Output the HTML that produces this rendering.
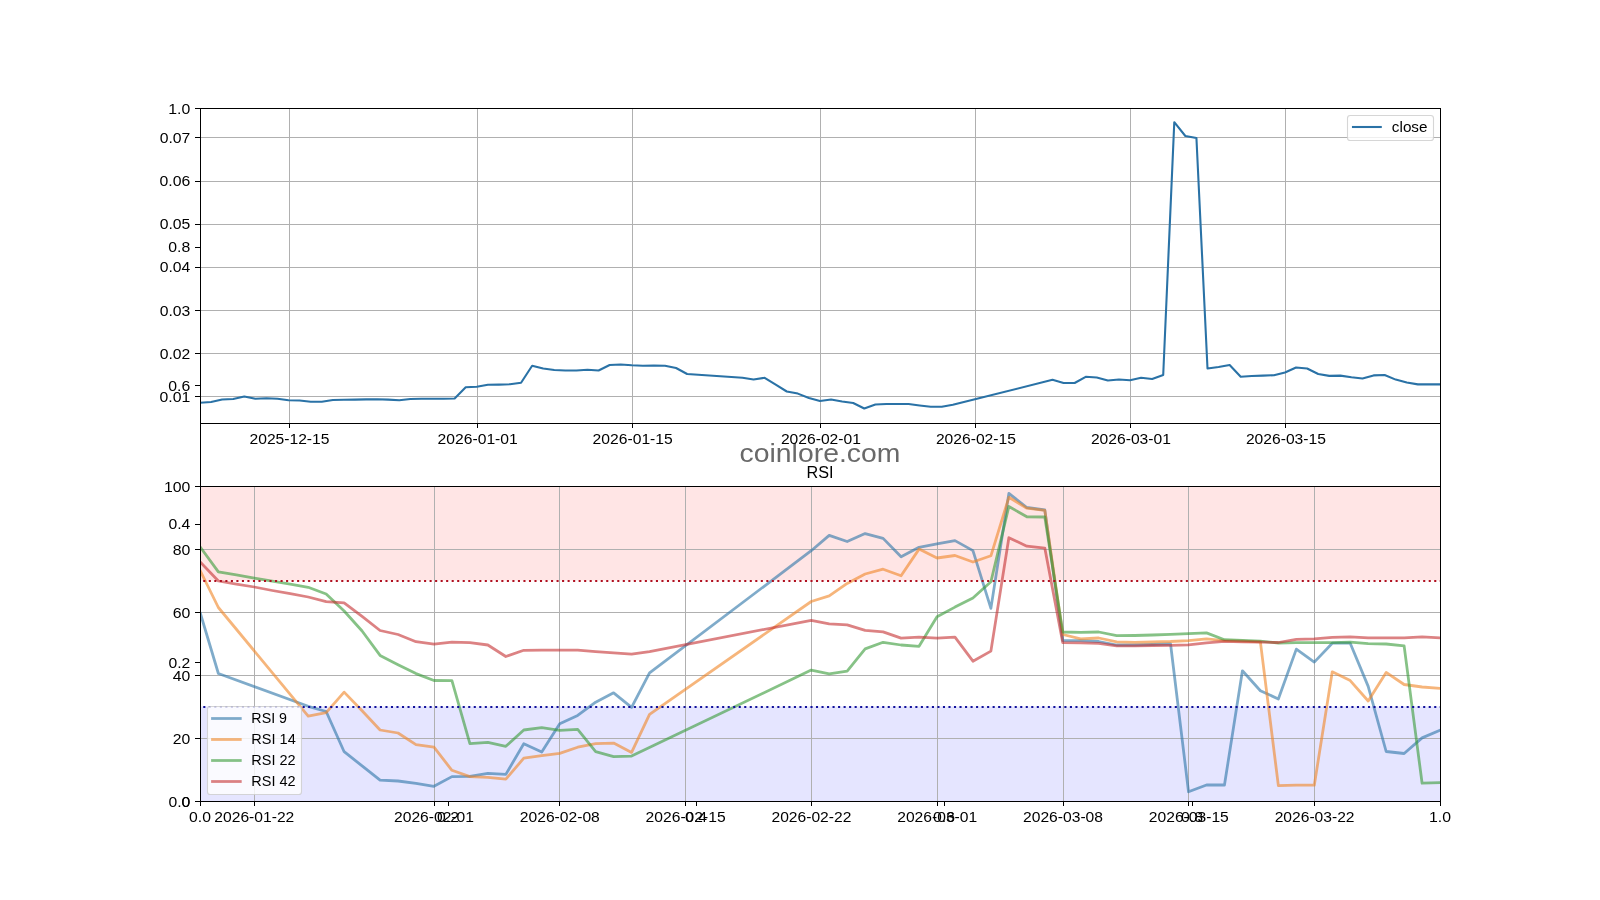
<!DOCTYPE html><html><head><meta charset="utf-8"><style>html,body{margin:0;padding:0;background:#fff;}svg{display:block;will-change:transform;}</style></head><body>
<svg width="1600" height="900" viewBox="0 0 1600 900">
<rect width="1600" height="900" fill="#fff"/>
<g font-family='&quot;Liberation Sans&quot;, sans-serif'>
<line x1="195" y1="801.5" x2="200" y2="801.5" stroke="#000" stroke-width="1" shape-rendering="crispEdges"/>
<line x1="195" y1="662.5" x2="200" y2="662.5" stroke="#000" stroke-width="1" shape-rendering="crispEdges"/>
<line x1="195" y1="524.5" x2="200" y2="524.5" stroke="#000" stroke-width="1" shape-rendering="crispEdges"/>
<line x1="195" y1="385.5" x2="200" y2="385.5" stroke="#000" stroke-width="1" shape-rendering="crispEdges"/>
<line x1="195" y1="247.5" x2="200" y2="247.5" stroke="#000" stroke-width="1" shape-rendering="crispEdges"/>
<line x1="195" y1="108.5" x2="200" y2="108.5" stroke="#000" stroke-width="1" shape-rendering="crispEdges"/>
<line x1="200.5" y1="801" x2="200.5" y2="806" stroke="#000" stroke-width="1" shape-rendering="crispEdges"/>
<line x1="448.5" y1="801" x2="448.5" y2="806" stroke="#000" stroke-width="1" shape-rendering="crispEdges"/>
<line x1="696.5" y1="801" x2="696.5" y2="806" stroke="#000" stroke-width="1" shape-rendering="crispEdges"/>
<line x1="944.5" y1="801" x2="944.5" y2="806" stroke="#000" stroke-width="1" shape-rendering="crispEdges"/>
<line x1="1192.5" y1="801" x2="1192.5" y2="806" stroke="#000" stroke-width="1" shape-rendering="crispEdges"/>
<line x1="1440.5" y1="801" x2="1440.5" y2="806" stroke="#000" stroke-width="1" shape-rendering="crispEdges"/>
<line x1="289.5" y1="108" x2="289.5" y2="423" stroke="#b0b0b0" stroke-width="1" shape-rendering="crispEdges"/>
<line x1="477.5" y1="108" x2="477.5" y2="423" stroke="#b0b0b0" stroke-width="1" shape-rendering="crispEdges"/>
<line x1="632.5" y1="108" x2="632.5" y2="423" stroke="#b0b0b0" stroke-width="1" shape-rendering="crispEdges"/>
<line x1="820.5" y1="108" x2="820.5" y2="423" stroke="#b0b0b0" stroke-width="1" shape-rendering="crispEdges"/>
<line x1="975.5" y1="108" x2="975.5" y2="423" stroke="#b0b0b0" stroke-width="1" shape-rendering="crispEdges"/>
<line x1="1130.5" y1="108" x2="1130.5" y2="423" stroke="#b0b0b0" stroke-width="1" shape-rendering="crispEdges"/>
<line x1="1285.5" y1="108" x2="1285.5" y2="423" stroke="#b0b0b0" stroke-width="1" shape-rendering="crispEdges"/>
<line x1="200" y1="396.5" x2="1440" y2="396.5" stroke="#b0b0b0" stroke-width="1" shape-rendering="crispEdges"/>
<line x1="200" y1="353.5" x2="1440" y2="353.5" stroke="#b0b0b0" stroke-width="1" shape-rendering="crispEdges"/>
<line x1="200" y1="310.5" x2="1440" y2="310.5" stroke="#b0b0b0" stroke-width="1" shape-rendering="crispEdges"/>
<line x1="200" y1="267.5" x2="1440" y2="267.5" stroke="#b0b0b0" stroke-width="1" shape-rendering="crispEdges"/>
<line x1="200" y1="224.5" x2="1440" y2="224.5" stroke="#b0b0b0" stroke-width="1" shape-rendering="crispEdges"/>
<line x1="200" y1="181.5" x2="1440" y2="181.5" stroke="#b0b0b0" stroke-width="1" shape-rendering="crispEdges"/>
<line x1="200" y1="137.5" x2="1440" y2="137.5" stroke="#b0b0b0" stroke-width="1" shape-rendering="crispEdges"/>
<clipPath id="c1"><rect x="200" y="108" width="1240" height="315"/></clipPath>
<polyline clip-path="url(#c1)" points="200,402.8 211.07,402 222.14,399.5 233.21,399 244.29,396.5 255.36,398.8 266.43,398.3 277.5,398.8 288.57,400.2 299.64,400.5 310.71,401.8 321.79,401.8 332.86,400 343.93,399.8 355,399.6 366.07,399.4 377.14,399.2 388.21,399.6 399.29,400.2 410.36,399 421.43,398.8 432.5,398.8 443.57,398.8 454.64,398.5 465.71,387.2 476.79,386.8 487.86,384.8 498.93,384.6 510,384.2 521.07,382.8 532.14,365.8 543.21,368.5 554.28,370 565.36,370.5 576.43,370.5 587.5,369.7 598.57,370.5 609.64,365 620.71,364.5 631.78,365.3 642.86,365.7 653.93,365.5 665,365.8 676.07,368 687.14,374 698.21,374.8 709.28,375.5 720.36,376.3 731.43,377 742.5,377.8 753.57,379.5 764.64,377.8 775.71,384.7 786.78,391.5 797.86,393.6 808.93,398 820,401 831.07,399.5 842.14,401.5 853.21,403 864.28,408.5 875.36,404.5 886.43,404 897.5,404 908.57,404 919.64,405.5 930.71,406.8 941.78,406.8 952.86,404.8 1052.5,379.8 1063.57,383 1074.64,383 1085.71,376.8 1096.78,377.5 1107.85,380.5 1118.93,379.5 1130,380.2 1141.07,377.8 1152.14,379 1163.21,375 1174.28,122.2 1185.35,136 1196.43,138 1207.5,368.5 1218.57,367 1229.64,365 1240.71,376.8 1251.78,376 1262.85,375.6 1273.93,375.2 1285,372.5 1296.07,367.5 1307.14,368.5 1318.21,374 1329.28,375.9 1340.35,375.6 1351.43,377.3 1362.5,378.5 1373.57,375.4 1384.64,375 1395.71,379.6 1406.78,382.5 1417.85,384.4 1428.93,384.4 1440,384.4" fill="none" stroke="#2a72a6" stroke-width="2.083" stroke-linejoin="round" stroke-linecap="square"/>
<line x1="289.5" y1="423" x2="289.5" y2="428" stroke="#000" stroke-width="1" shape-rendering="crispEdges"/>
<line x1="477.5" y1="423" x2="477.5" y2="428" stroke="#000" stroke-width="1" shape-rendering="crispEdges"/>
<line x1="632.5" y1="423" x2="632.5" y2="428" stroke="#000" stroke-width="1" shape-rendering="crispEdges"/>
<line x1="820.5" y1="423" x2="820.5" y2="428" stroke="#000" stroke-width="1" shape-rendering="crispEdges"/>
<line x1="975.5" y1="423" x2="975.5" y2="428" stroke="#000" stroke-width="1" shape-rendering="crispEdges"/>
<line x1="1130.5" y1="423" x2="1130.5" y2="428" stroke="#000" stroke-width="1" shape-rendering="crispEdges"/>
<line x1="1285.5" y1="423" x2="1285.5" y2="428" stroke="#000" stroke-width="1" shape-rendering="crispEdges"/>
<line x1="195" y1="396.5" x2="200" y2="396.5" stroke="#000" stroke-width="1" shape-rendering="crispEdges"/>
<line x1="195" y1="353.5" x2="200" y2="353.5" stroke="#000" stroke-width="1" shape-rendering="crispEdges"/>
<line x1="195" y1="310.5" x2="200" y2="310.5" stroke="#000" stroke-width="1" shape-rendering="crispEdges"/>
<line x1="195" y1="267.5" x2="200" y2="267.5" stroke="#000" stroke-width="1" shape-rendering="crispEdges"/>
<line x1="195" y1="224.5" x2="200" y2="224.5" stroke="#000" stroke-width="1" shape-rendering="crispEdges"/>
<line x1="195" y1="181.5" x2="200" y2="181.5" stroke="#000" stroke-width="1" shape-rendering="crispEdges"/>
<line x1="195" y1="137.5" x2="200" y2="137.5" stroke="#000" stroke-width="1" shape-rendering="crispEdges"/>
<rect x="1347.5" y="115.5" width="86" height="25" rx="2.78" fill="#fff" fill-opacity="0.8" stroke="#ccc" stroke-opacity="0.8" stroke-width="1.11"/>
<line x1="1352.99" y1="127" x2="1380.76" y2="127" stroke="#2a72a6" stroke-width="2.083" stroke-linecap="square"/>
<clipPath id="c2"><rect x="200" y="486" width="1240" height="315"/></clipPath>
<rect x="200" y="486" width="1240" height="94.5" fill="#ff0000" fill-opacity="0.1"/>
<rect x="200" y="706.5" width="1240" height="94.5" fill="#0000ff" fill-opacity="0.1"/>
<line x1="254.5" y1="486" x2="254.5" y2="801" stroke="#b0b0b0" stroke-width="1" shape-rendering="crispEdges"/>
<line x1="434.5" y1="486" x2="434.5" y2="801" stroke="#b0b0b0" stroke-width="1" shape-rendering="crispEdges"/>
<line x1="559.5" y1="486" x2="559.5" y2="801" stroke="#b0b0b0" stroke-width="1" shape-rendering="crispEdges"/>
<line x1="685.5" y1="486" x2="685.5" y2="801" stroke="#b0b0b0" stroke-width="1" shape-rendering="crispEdges"/>
<line x1="811.5" y1="486" x2="811.5" y2="801" stroke="#b0b0b0" stroke-width="1" shape-rendering="crispEdges"/>
<line x1="937.5" y1="486" x2="937.5" y2="801" stroke="#b0b0b0" stroke-width="1" shape-rendering="crispEdges"/>
<line x1="1063.5" y1="486" x2="1063.5" y2="801" stroke="#b0b0b0" stroke-width="1" shape-rendering="crispEdges"/>
<line x1="1188.5" y1="486" x2="1188.5" y2="801" stroke="#b0b0b0" stroke-width="1" shape-rendering="crispEdges"/>
<line x1="1314.5" y1="486" x2="1314.5" y2="801" stroke="#b0b0b0" stroke-width="1" shape-rendering="crispEdges"/>
<line x1="200" y1="738.5" x2="1440" y2="738.5" stroke="#b0b0b0" stroke-width="1" shape-rendering="crispEdges"/>
<line x1="200" y1="675.5" x2="1440" y2="675.5" stroke="#b0b0b0" stroke-width="1" shape-rendering="crispEdges"/>
<line x1="200" y1="612.5" x2="1440" y2="612.5" stroke="#b0b0b0" stroke-width="1" shape-rendering="crispEdges"/>
<line x1="200" y1="549.5" x2="1440" y2="549.5" stroke="#b0b0b0" stroke-width="1" shape-rendering="crispEdges"/>
<polyline clip-path="url(#c2)" points="200.4,613.5 218.37,673.5 308.2,706.3 326.16,711.5 344.13,751.7 362.09,765.9 380.06,780.1 398.03,781 415.99,783.3 433.96,786.3 451.92,776.6 469.89,776.4 487.86,773.4 505.82,774.4 523.79,743.7 541.75,752 559.72,723.8 577.69,715.4 595.65,702.2 613.62,692.8 631.58,707.4 649.55,672.8 811.24,550.7 829.21,535.4 847.18,541.5 865.14,533.6 883.11,538.4 901.07,556.8 919.04,547.3 937.01,543.8 954.97,540.6 972.94,550.6 990.9,608.4 1008.87,493.4 1026.84,507.5 1044.8,510 1062.77,640.5 1080.73,640.6 1098.7,641.5 1116.67,645 1134.63,645 1152.6,644.5 1170.56,644 1188.53,791.8 1206.5,785 1224.46,785 1242.43,670.8 1260.39,690.7 1278.36,699 1296.33,649.1 1314.29,662.1 1332.26,643.2 1350.22,643.2 1368.19,686.4 1386.16,751.5 1404.12,753.5 1422.09,737.9 1440.05,730.2" fill="none" stroke="#2973a7" stroke-opacity="0.6" stroke-width="2.78" stroke-linejoin="round" stroke-linecap="square"/>
<polyline clip-path="url(#c2)" points="200.4,571 218.37,607.5 308.2,716.1 326.16,712.6 344.13,692.1 362.09,710.8 380.06,730 398.03,733 415.99,744.6 433.96,747.2 451.92,770.3 469.89,776.6 487.86,777.4 505.82,779.2 523.79,758.2 541.75,755.6 559.72,753.4 577.69,747.2 595.65,743.7 613.62,743.1 631.58,752.4 649.55,714.3 811.24,601.5 829.21,595.9 847.18,583.4 865.14,574 883.11,569.2 901.07,575.8 919.04,549.1 937.01,558 954.97,555.5 972.94,562 990.9,555.8 1008.87,497.3 1026.84,508.2 1044.8,510.3 1062.77,634.5 1080.73,638.9 1098.7,638 1116.67,641.9 1134.63,642.4 1152.6,642 1170.56,641.5 1188.53,640.6 1206.5,638.9 1224.46,640.6 1242.43,641.2 1260.39,641.8 1278.36,785.6 1296.33,785.2 1314.29,785.2 1332.26,671.8 1350.22,680.6 1368.19,701 1386.16,672.4 1404.12,684.5 1422.09,687 1440.05,688.3" fill="none" stroke="#f08323" stroke-opacity="0.6" stroke-width="2.78" stroke-linejoin="round" stroke-linecap="square"/>
<polyline clip-path="url(#c2)" points="200.4,547.3 218.37,571.9 236.33,574.9 254.3,578.1 272.26,581.1 290.23,584.1 308.2,587.3 326.16,594 344.13,611 362.09,631 380.06,655.4 398.03,664.7 415.99,673.6 433.96,680.5 451.92,680.7 469.89,743.7 487.86,742.4 505.82,746.3 523.79,730 541.75,727.7 559.72,730.3 577.69,729.4 595.65,751.7 613.62,756.6 631.58,756.1 811.24,670.1 829.21,673.8 847.18,671.1 865.14,648.9 883.11,642.3 901.07,645 919.04,646.3 937.01,616.8 954.97,607.1 972.94,598 990.9,581.8 1008.87,506.5 1026.84,516.8 1044.8,517 1062.77,632 1080.73,632.4 1098.7,632 1116.67,635.7 1134.63,635.5 1152.6,635 1170.56,634.3 1188.53,633.7 1206.5,632.9 1224.46,639.7 1242.43,640.4 1260.39,641.2 1278.36,643 1296.33,642.6 1314.29,642.6 1332.26,642.6 1350.22,642.1 1368.19,643.6 1386.16,644 1404.12,645.9 1422.09,783.2 1440.05,782.7" fill="none" stroke="#369936" stroke-opacity="0.6" stroke-width="2.78" stroke-linejoin="round" stroke-linecap="square"/>
<polyline clip-path="url(#c2)" points="200.4,562.1 218.37,581 236.33,584.1 254.3,587 272.26,590.5 290.23,593.6 308.2,597 326.16,601.7 344.13,602.8 362.09,616.4 380.06,630.5 398.03,634.5 415.99,641.7 433.96,644.1 451.92,642.1 469.89,642.7 487.86,645 505.82,656.5 523.79,650.3 541.75,650.1 559.72,650.1 577.69,650.1 595.65,651.6 613.62,652.8 631.58,654.2 649.55,651.6 811.24,620.3 829.21,623.9 847.18,624.8 865.14,630.3 883.11,631.9 901.07,638.1 919.04,637.2 937.01,638.2 954.97,637.1 972.94,661.2 990.9,651.1 1008.87,537.7 1026.84,546.2 1044.8,548.1 1062.77,642.7 1080.73,642.9 1098.7,643.3 1116.67,645.9 1134.63,645.9 1152.6,645.5 1170.56,645.4 1188.53,644.8 1206.5,642.8 1224.46,641.4 1242.43,641.8 1260.39,642.2 1278.36,642.5 1296.33,639.3 1314.29,638.8 1332.26,637.4 1350.22,636.8 1368.19,637.8 1386.16,637.8 1404.12,637.8 1422.09,636.8 1440.05,637.8" fill="none" stroke="#c42f30" stroke-opacity="0.6" stroke-width="2.78" stroke-linejoin="round" stroke-linecap="square"/>
<line x1="200" y1="581" x2="1440" y2="581" stroke="#b01020" stroke-width="2" stroke-dasharray="2.08 3.44" stroke-dashoffset="-3.26"/>
<line x1="200" y1="707" x2="1440" y2="707" stroke="#10109a" stroke-width="2" stroke-dasharray="2.08 3.44" stroke-dashoffset="-3.26"/>
<line x1="254.5" y1="801" x2="254.5" y2="806" stroke="#000" stroke-width="1" shape-rendering="crispEdges"/>
<line x1="434.5" y1="801" x2="434.5" y2="806" stroke="#000" stroke-width="1" shape-rendering="crispEdges"/>
<line x1="559.5" y1="801" x2="559.5" y2="806" stroke="#000" stroke-width="1" shape-rendering="crispEdges"/>
<line x1="685.5" y1="801" x2="685.5" y2="806" stroke="#000" stroke-width="1" shape-rendering="crispEdges"/>
<line x1="811.5" y1="801" x2="811.5" y2="806" stroke="#000" stroke-width="1" shape-rendering="crispEdges"/>
<line x1="937.5" y1="801" x2="937.5" y2="806" stroke="#000" stroke-width="1" shape-rendering="crispEdges"/>
<line x1="1063.5" y1="801" x2="1063.5" y2="806" stroke="#000" stroke-width="1" shape-rendering="crispEdges"/>
<line x1="1188.5" y1="801" x2="1188.5" y2="806" stroke="#000" stroke-width="1" shape-rendering="crispEdges"/>
<line x1="1314.5" y1="801" x2="1314.5" y2="806" stroke="#000" stroke-width="1" shape-rendering="crispEdges"/>
<line x1="195" y1="738.5" x2="200" y2="738.5" stroke="#000" stroke-width="1" shape-rendering="crispEdges"/>
<line x1="195" y1="675.5" x2="200" y2="675.5" stroke="#000" stroke-width="1" shape-rendering="crispEdges"/>
<line x1="195" y1="612.5" x2="200" y2="612.5" stroke="#000" stroke-width="1" shape-rendering="crispEdges"/>
<line x1="195" y1="549.5" x2="200" y2="549.5" stroke="#000" stroke-width="1" shape-rendering="crispEdges"/>
<line x1="195" y1="801.5" x2="200" y2="801.5" stroke="#000" stroke-width="1" shape-rendering="crispEdges"/>
<line x1="195" y1="486.5" x2="200" y2="486.5" stroke="#000" stroke-width="1" shape-rendering="crispEdges"/>
<rect x="207.5" y="706.5" width="94" height="88" rx="2.78" fill="#fff" fill-opacity="0.8" stroke="#ccc" stroke-opacity="0.8" stroke-width="1.11"/>
<line x1="212.5" y1="718.5" x2="240.28" y2="718.5" stroke="#2973a7" stroke-opacity="0.6" stroke-width="2.78" stroke-linecap="square"/>
<line x1="212.5" y1="739.5" x2="240.28" y2="739.5" stroke="#f08323" stroke-opacity="0.6" stroke-width="2.78" stroke-linecap="square"/>
<line x1="212.5" y1="760.5" x2="240.28" y2="760.5" stroke="#369936" stroke-opacity="0.6" stroke-width="2.78" stroke-linecap="square"/>
<line x1="212.5" y1="781.5" x2="240.28" y2="781.5" stroke="#c42f30" stroke-opacity="0.6" stroke-width="2.78" stroke-linecap="square"/>
<line x1="200.5" y1="108" x2="200.5" y2="801.5" stroke="#000" stroke-width="1" shape-rendering="crispEdges"/>
<line x1="1440.5" y1="108" x2="1440.5" y2="801.5" stroke="#000" stroke-width="1" shape-rendering="crispEdges"/>
<line x1="200" y1="108.5" x2="1441" y2="108.5" stroke="#000" stroke-width="1" shape-rendering="crispEdges"/>
<line x1="200" y1="423.5" x2="1441" y2="423.5" stroke="#000" stroke-width="1" shape-rendering="crispEdges"/>
<line x1="200" y1="486.5" x2="1441" y2="486.5" stroke="#000" stroke-width="1" shape-rendering="crispEdges"/>
<line x1="200" y1="801.5" x2="1441" y2="801.5" stroke="#000" stroke-width="1" shape-rendering="crispEdges"/>
<text x="739.62" y="461.5" font-size="25" textLength="160.75" lengthAdjust="spacingAndGlyphs" fill="#696969">coinlore.com</text>
<text x="189.06" y="821.72" font-size="13.89" textLength="21.88" lengthAdjust="spacingAndGlyphs" fill="#000">0.0</text>
<text x="437.06" y="821.72" font-size="13.89" textLength="21.88" lengthAdjust="spacingAndGlyphs" fill="#000">0.2</text>
<text x="685.06" y="821.72" font-size="13.89" textLength="21.88" lengthAdjust="spacingAndGlyphs" fill="#000">0.4</text>
<text x="933" y="821.72" font-size="13.89" textLength="22" lengthAdjust="spacingAndGlyphs" fill="#000">0.6</text>
<text x="1181" y="821.72" font-size="13.89" textLength="22" lengthAdjust="spacingAndGlyphs" fill="#000">0.8</text>
<text x="1429" y="821.72" font-size="13.89" textLength="22" lengthAdjust="spacingAndGlyphs" fill="#000">1.0</text>
<text x="168.4" y="806.5" font-size="13.89" textLength="21.88" lengthAdjust="spacingAndGlyphs" fill="#000">0.0</text>
<text x="168.4" y="667.9" font-size="13.89" textLength="21.88" lengthAdjust="spacingAndGlyphs" fill="#000">0.2</text>
<text x="168.4" y="529.3" font-size="13.89" textLength="21.88" lengthAdjust="spacingAndGlyphs" fill="#000">0.4</text>
<text x="168.28" y="390.7" font-size="13.89" textLength="22" lengthAdjust="spacingAndGlyphs" fill="#000">0.6</text>
<text x="168.28" y="252.1" font-size="13.89" textLength="22" lengthAdjust="spacingAndGlyphs" fill="#000">0.8</text>
<text x="168.28" y="113.5" font-size="13.89" textLength="22" lengthAdjust="spacingAndGlyphs" fill="#000">1.0</text>
<text x="249.49" y="443.72" font-size="13.89" textLength="80" lengthAdjust="spacingAndGlyphs" fill="#000">2025-12-15</text>
<text x="437.64" y="443.72" font-size="13.89" textLength="80.12" lengthAdjust="spacingAndGlyphs" fill="#000">2026-01-01</text>
<text x="592.64" y="443.72" font-size="13.89" textLength="80.12" lengthAdjust="spacingAndGlyphs" fill="#000">2026-01-15</text>
<text x="780.92" y="443.72" font-size="13.89" textLength="80" lengthAdjust="spacingAndGlyphs" fill="#000">2026-02-01</text>
<text x="935.92" y="443.72" font-size="13.89" textLength="80" lengthAdjust="spacingAndGlyphs" fill="#000">2026-02-15</text>
<text x="1090.92" y="443.72" font-size="13.89" textLength="80" lengthAdjust="spacingAndGlyphs" fill="#000">2026-03-01</text>
<text x="1245.92" y="443.72" font-size="13.89" textLength="80" lengthAdjust="spacingAndGlyphs" fill="#000">2026-03-15</text>
<text x="159.53" y="402" font-size="13.89" textLength="30.75" lengthAdjust="spacingAndGlyphs" fill="#000">0.01</text>
<text x="159.65" y="358.83" font-size="13.89" textLength="30.62" lengthAdjust="spacingAndGlyphs" fill="#000">0.02</text>
<text x="159.65" y="315.66" font-size="13.89" textLength="30.62" lengthAdjust="spacingAndGlyphs" fill="#000">0.03</text>
<text x="159.65" y="272.49" font-size="13.89" textLength="30.62" lengthAdjust="spacingAndGlyphs" fill="#000">0.04</text>
<text x="159.65" y="229.32" font-size="13.89" textLength="30.62" lengthAdjust="spacingAndGlyphs" fill="#000">0.05</text>
<text x="159.53" y="186.15" font-size="13.89" textLength="30.75" lengthAdjust="spacingAndGlyphs" fill="#000">0.06</text>
<text x="159.65" y="142.98" font-size="13.89" textLength="30.62" lengthAdjust="spacingAndGlyphs" fill="#000">0.07</text>
<text x="1391.88" y="131.5" font-size="13.89" textLength="35.62" lengthAdjust="spacingAndGlyphs" fill="#000">close</text>
<text x="214.31" y="821.72" font-size="13.89" textLength="80" lengthAdjust="spacingAndGlyphs" fill="#000">2026-01-22</text>
<text x="394.02" y="821.72" font-size="13.89" textLength="80" lengthAdjust="spacingAndGlyphs" fill="#000">2026-02-01</text>
<text x="519.82" y="821.72" font-size="13.89" textLength="80" lengthAdjust="spacingAndGlyphs" fill="#000">2026-02-08</text>
<text x="645.62" y="821.72" font-size="13.89" textLength="80" lengthAdjust="spacingAndGlyphs" fill="#000">2026-02-15</text>
<text x="771.48" y="821.72" font-size="13.89" textLength="79.88" lengthAdjust="spacingAndGlyphs" fill="#000">2026-02-22</text>
<text x="897.21" y="821.72" font-size="13.89" textLength="80" lengthAdjust="spacingAndGlyphs" fill="#000">2026-03-01</text>
<text x="1023.01" y="821.72" font-size="13.89" textLength="80" lengthAdjust="spacingAndGlyphs" fill="#000">2026-03-08</text>
<text x="1148.81" y="821.72" font-size="13.89" textLength="80" lengthAdjust="spacingAndGlyphs" fill="#000">2026-03-15</text>
<text x="1274.67" y="821.72" font-size="13.89" textLength="79.88" lengthAdjust="spacingAndGlyphs" fill="#000">2026-03-22</text>
<text x="181.53" y="806.5" font-size="13.89" textLength="8.75" lengthAdjust="spacingAndGlyphs" fill="#000">0</text>
<text x="172.78" y="743.5" font-size="13.89" textLength="17.5" lengthAdjust="spacingAndGlyphs" fill="#000">20</text>
<text x="172.78" y="680.5" font-size="13.89" textLength="17.5" lengthAdjust="spacingAndGlyphs" fill="#000">40</text>
<text x="172.65" y="617.5" font-size="13.89" textLength="17.62" lengthAdjust="spacingAndGlyphs" fill="#000">60</text>
<text x="172.65" y="554.5" font-size="13.89" textLength="17.62" lengthAdjust="spacingAndGlyphs" fill="#000">80</text>
<text x="163.9" y="491.5" font-size="13.89" textLength="26.38" lengthAdjust="spacingAndGlyphs" fill="#000">100</text>
<text x="806.5" y="477.67" font-size="16.67" textLength="27" lengthAdjust="spacingAndGlyphs" fill="#000">RSI</text>
<text x="251.39" y="722.67" font-size="13.89" textLength="35.63" lengthAdjust="spacingAndGlyphs" fill="#000">RSI 9</text>
<text x="251.39" y="743.61" font-size="13.89" textLength="44.38" lengthAdjust="spacingAndGlyphs" fill="#000">RSI 14</text>
<text x="251.39" y="764.56" font-size="13.89" textLength="44.25" lengthAdjust="spacingAndGlyphs" fill="#000">RSI 22</text>
<text x="251.39" y="785.5" font-size="13.89" textLength="44.25" lengthAdjust="spacingAndGlyphs" fill="#000">RSI 42</text>
</g></svg></body></html>
